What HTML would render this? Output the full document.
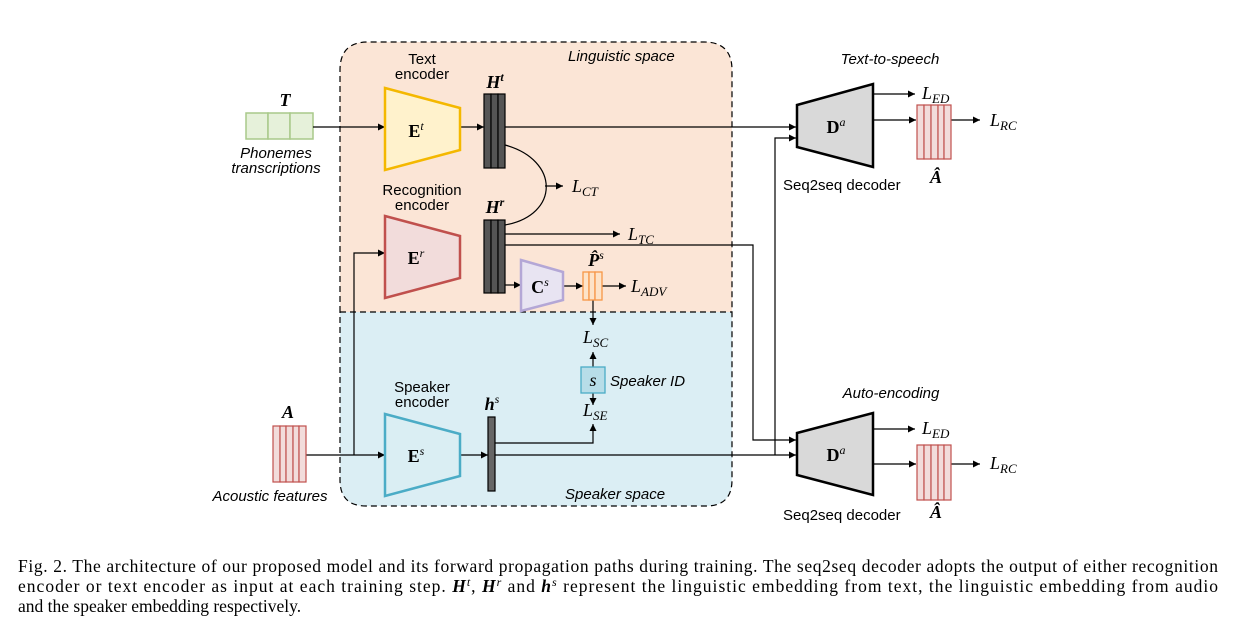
<!DOCTYPE html>
<html><head><meta charset="utf-8"><style>
html,body{margin:0;padding:0;background:#fff;}
svg{display:block;}
.s{font-family:"Liberation Sans",sans-serif;font-size:15px;fill:#000;}
.i{font-family:"Liberation Sans",sans-serif;font-size:15px;font-style:italic;fill:#000;}
.m{font-family:"Liberation Serif",serif;font-size:18px;fill:#000;}
.c{font-family:"Liberation Serif",serif;font-size:17.5px;fill:#000;}
</style></head><body>
<svg width="1240" height="626" viewBox="0 0 1240 626" xmlns="http://www.w3.org/2000/svg">
<defs>
<marker id="a" viewBox="0 0 10 10" refX="10" refY="5" markerWidth="7" markerHeight="7" orient="auto" markerUnits="userSpaceOnUse"><path d="M0,0 L10,5 L0,10 z" fill="#000"/></marker>
</defs>
<path d="M340,312 V70 Q340,42 368,42 H704 Q732,42 732,70 V312 Z" fill="#fbe5d6"/>
<path d="M340,312 H732 V480 Q732,506 706,506 H366 Q340,506 340,480 Z" fill="#dbeef4"/>
<path d="M340,312 V70 Q340,42 368,42 H704 Q732,42 732,70 V480 Q732,506 706,506 H366 Q340,506 340,480 Z M340,312 H732" fill="none" stroke="#000" stroke-width="1.2" stroke-dasharray="6,4"/>
<text class="i" x="568" y="61">Linguistic space</text>
<text class="i" x="565" y="499">Speaker space</text>

<g fill="#e6f1da" stroke="#a9c98a" stroke-width="1.5"><rect x="246" y="113" width="22" height="26"/><rect x="268" y="113" width="22" height="26"/><rect x="290" y="113" width="23" height="26"/></g>
<text class="m" x="285" y="106" text-anchor="middle" font-weight="bold" font-style="italic">T</text>
<text class="i" x="276" y="158" text-anchor="middle">Phonemes</text>
<text class="i" x="276" y="173" text-anchor="middle">transcriptions</text>

<g stroke="#000" stroke-width="1.2" fill="none">
<line x1="313" y1="127" x2="385" y2="127" marker-end="url(#a)"/>
<line x1="460" y1="127" x2="484" y2="127" marker-end="url(#a)"/>
<line x1="505" y1="127" x2="796" y2="127" marker-end="url(#a)"/>
<path d="M505,145 C560,160 560,215 505,225"/>
<line x1="545" y1="186" x2="563" y2="186" marker-end="url(#a)"/>
<line x1="505" y1="234" x2="620" y2="234" marker-end="url(#a)"/>
<path d="M505,245 H753 V440 H796" marker-end="url(#a)"/>
<path d="M505,285 H521" marker-end="url(#a)"/>
<line x1="563" y1="286" x2="583" y2="286" marker-end="url(#a)"/>
<line x1="602" y1="286" x2="626" y2="286" marker-end="url(#a)"/>
<line x1="593" y1="300" x2="593" y2="325" marker-end="url(#a)"/>
<line x1="593" y1="367" x2="593" y2="352" marker-end="url(#a)"/>
<line x1="593" y1="393" x2="593" y2="405" marker-end="url(#a)"/>
<path d="M495,443 H593 V424" marker-end="url(#a)"/>
<line x1="306" y1="455" x2="385" y2="455" marker-end="url(#a)"/>
<path d="M354,455 V253 H385" marker-end="url(#a)"/>
<line x1="460" y1="455" x2="488" y2="455" marker-end="url(#a)"/>
<line x1="495" y1="455" x2="796" y2="455" marker-end="url(#a)"/>
<path d="M775,455 V138 H796" marker-end="url(#a)"/>
<line x1="873" y1="94" x2="915" y2="94" marker-end="url(#a)"/>
<line x1="873" y1="120" x2="916" y2="120" marker-end="url(#a)"/>
<line x1="951" y1="120" x2="980" y2="120" marker-end="url(#a)"/>
<line x1="873" y1="429" x2="915" y2="429" marker-end="url(#a)"/>
<line x1="873" y1="464" x2="916" y2="464" marker-end="url(#a)"/>
<line x1="951" y1="464" x2="980" y2="464" marker-end="url(#a)"/>
</g>

<polygon points="385,88 460,108 460,150 385,170" fill="#fff2cc" stroke="#f4b800" stroke-width="2.5"/>
<text class="s" x="422" y="64" text-anchor="middle">Text</text>
<text class="s" x="422" y="79" text-anchor="middle">encoder</text>
<text class="m" x="416" y="137" text-anchor="middle" font-weight="bold">E<tspan font-size="12" dy="-7" font-weight="normal" font-style="italic">t</tspan></text>
<g fill="#555" stroke="#000" stroke-width="1.2"><rect x="484" y="94" width="7" height="74"/><rect x="491" y="94" width="7" height="74"/><rect x="498" y="94" width="7" height="74"/></g>
<text class="m" x="495" y="88" text-anchor="middle" font-weight="bold" font-style="italic">H<tspan font-size="12" dy="-7">t</tspan></text>
<text class="m" x="572" y="192" font-style="italic">L<tspan font-size="13" dy="4">CT</tspan></text>

<polygon points="385,216 460,236 460,278 385,298" fill="#f2dcdb" stroke="#c0504d" stroke-width="2.5"/>
<text class="s" x="422" y="195" text-anchor="middle">Recognition</text>
<text class="s" x="422" y="210" text-anchor="middle">encoder</text>
<text class="m" x="416" y="264" text-anchor="middle" font-weight="bold">E<tspan font-size="12" dy="-7" font-weight="normal" font-style="italic">r</tspan></text>
<g fill="#555" stroke="#000" stroke-width="1.2"><rect x="484" y="220" width="7" height="73"/><rect x="491" y="220" width="7" height="73"/><rect x="498" y="220" width="7" height="73"/></g>
<text class="m" x="495" y="213" text-anchor="middle" font-weight="bold" font-style="italic">H<tspan font-size="12" dy="-7">r</tspan></text>
<text class="m" x="628" y="240" font-style="italic">L<tspan font-size="13" dy="4">TC</tspan></text>

<polygon points="521,260 563,272 563,300 521,311" fill="#e8e4f2" stroke="#b4a7d6" stroke-width="2.5"/>
<text class="m" x="540" y="293" text-anchor="middle" font-weight="bold">C<tspan font-size="12" dy="-7" font-weight="normal" font-style="italic">s</tspan></text>
<g fill="#fde3c8" stroke="#f79646" stroke-width="1.3"><rect x="583" y="272" width="6" height="28"/><rect x="589" y="272" width="6" height="28"/><rect x="595" y="272" width="7" height="28"/></g>
<text class="m" x="596" y="266" text-anchor="middle" font-weight="bold" font-style="italic">P̂<tspan font-size="12" dy="-7" font-weight="normal">s</tspan></text>
<text class="m" x="631" y="292" font-style="italic">L<tspan font-size="13" dy="4">ADV</tspan></text>

<text class="m" x="583" y="343" font-style="italic">L<tspan font-size="13" dy="4">SC</tspan></text>
<rect x="581" y="367" width="24" height="26" fill="#b7dde8" stroke="#4bacc6" stroke-width="1.3"/>
<text class="m" x="593" y="386" text-anchor="middle" font-style="italic">s</text>
<text class="i" x="610" y="386">Speaker ID</text>
<text class="m" x="583" y="416" font-style="italic">L<tspan font-size="13" dy="4">SE</tspan></text>

<g fill="#f2dcdb" stroke="#c0504d" stroke-width="1.2"><rect x="273" y="426" width="7" height="56"/><rect x="280" y="426" width="6" height="56"/><rect x="286" y="426" width="7" height="56"/><rect x="293" y="426" width="6" height="56"/><rect x="299" y="426" width="7" height="56"/></g>
<text class="m" x="288" y="418" text-anchor="middle" font-weight="bold" font-style="italic">A</text>
<text class="i" x="270" y="501" text-anchor="middle">Acoustic features</text>

<polygon points="385,414 460,434 460,476 385,496" fill="#daeef3" stroke="#4bacc6" stroke-width="2.5"/>
<text class="s" x="422" y="392" text-anchor="middle">Speaker</text>
<text class="s" x="422" y="407" text-anchor="middle">encoder</text>
<text class="m" x="416" y="462" text-anchor="middle" font-weight="bold">E<tspan font-size="12" dy="-7" font-weight="normal" font-style="italic">s</tspan></text>
<rect x="488" y="417" width="7" height="74" fill="#666" stroke="#000" stroke-width="1.2"/>
<text class="m" x="492" y="410" text-anchor="middle" font-weight="bold" font-style="italic">h<tspan font-size="12" dy="-7" font-weight="normal">s</tspan></text>

<text class="i" x="890" y="64" text-anchor="middle">Text-to-speech</text>
<polygon points="797,105 873,84 873,167 797,147" fill="#d9d9d9" stroke="#000" stroke-width="2.5"/>
<text class="m" x="836" y="133" text-anchor="middle" font-weight="bold">D<tspan font-size="12" dy="-7" font-weight="normal" font-style="italic">a</tspan></text>
<text class="m" x="922" y="99" font-style="italic">L<tspan font-size="13" dy="4">ED</tspan></text>
<g fill="#f2dcdb" stroke="#c0504d" stroke-width="1.2"><rect x="917" y="105" width="7" height="54"/><rect x="924" y="105" width="7" height="54"/><rect x="931" y="105" width="7" height="54"/><rect x="938" y="105" width="6" height="54"/><rect x="944" y="105" width="7" height="54"/></g>
<text class="m" x="990" y="126" font-style="italic">L<tspan font-size="13" dy="4">RC</tspan></text>
<text class="s" x="783" y="190">Seq2seq decoder</text>
<text class="m" x="936" y="183" text-anchor="middle" font-weight="bold" font-style="italic">Â</text>

<text class="i" x="891" y="398" text-anchor="middle">Auto-encoding</text>
<polygon points="797,433 873,413 873,495 797,475" fill="#d9d9d9" stroke="#000" stroke-width="2.5"/>
<text class="m" x="836" y="461" text-anchor="middle" font-weight="bold">D<tspan font-size="12" dy="-7" font-weight="normal" font-style="italic">a</tspan></text>
<text class="m" x="922" y="434" font-style="italic">L<tspan font-size="13" dy="4">ED</tspan></text>
<g fill="#f2dcdb" stroke="#c0504d" stroke-width="1.2"><rect x="917" y="445" width="7" height="55"/><rect x="924" y="445" width="7" height="55"/><rect x="931" y="445" width="7" height="55"/><rect x="938" y="445" width="6" height="55"/><rect x="944" y="445" width="7" height="55"/></g>
<text class="m" x="990" y="469" font-style="italic">L<tspan font-size="13" dy="4">RC</tspan></text>
<text class="s" x="783" y="520">Seq2seq decoder</text>
<text class="m" x="936" y="518" text-anchor="middle" font-weight="bold" font-style="italic">Â</text>

<text class="c" x="18" y="572" textLength="1200" lengthAdjust="spacing">Fig. 2.  The architecture of our proposed model and its forward propagation paths during training. The seq2seq decoder adopts the output of either recognition</text>
<text class="c" x="18" y="592" textLength="1200" lengthAdjust="spacing">encoder or text encoder as input at each training step. <tspan font-weight="bold" font-style="italic">H</tspan><tspan font-size="12" dy="-6" font-style="italic">t</tspan><tspan dy="6">, </tspan><tspan font-weight="bold" font-style="italic">H</tspan><tspan font-size="12" dy="-6" font-style="italic">r</tspan><tspan dy="6"> and </tspan><tspan font-weight="bold" font-style="italic">h</tspan><tspan font-size="12" dy="-6" font-style="italic">s</tspan><tspan dy="6"> represent the linguistic embedding from text, the linguistic embedding from audio</tspan></text>
<text class="c" x="18" y="612">and the speaker embedding respectively.</text>
</svg>
</body></html>
